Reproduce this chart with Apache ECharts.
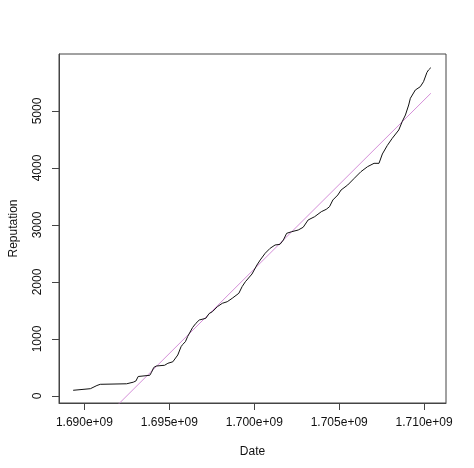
<!DOCTYPE html>
<html>
<head>
<meta charset="utf-8">
<script src="https://cdn.jsdelivr.net/npm/echarts@6/dist/echarts.min.js"></script>
<style>html,body{margin:0;padding:0;background:#fff}#c{width:474px;height:468px}</style>
</head>
<body>
<div id="c"></div>
<script>
// Date (unix seconds) and reputation
var dates = [1689336000,1690350000,1690443000,1690734000,1690932000,1692483000,1692873000,1693030000,1693164000,1693263000,
1693846000,1693939000,1694079000,1694231000,1694720000,1694913000,1695204000,1695495000,1695688000,1695787000,
1695944000,1696078000,1696369000,1696562000,1696760000,1697145000,1697343000,1697535000,1697826000,1698118000,
1698409000,1698700000,1699091000,1699283000,1699476000,1699866000,1700157000,1700350000,1700641000,1700932000,
1701224000,1701515000,1701713000,1701906000,1702197000,1702587000,1702879000,1703170000,1703555000,1703945000,
1704237000,1704429000,1704627000,1704918000,1705111000,1705501000,1705886000,1706276000,1706667000,1707051000,
1707343000,1707541000,1707832000,1708124000,1708508000,1708706000,1708899000,1709091000,1709190000,1709481000,
1709773000,1709965000,1710163000,1710256000,1710396000];
var reputation = [100,128,128,184,205,214,242,263,342,360,
363,409,500,526,539,574,600,719,865,904,
953,1044,1202,1275,1333,1363,1447,1479,1567,1626,
1654,1714,1802,1918,2005,2140,2298,2386,2504,2591,
2649,2661,2737,2854,2882,2912,2960,3088,3146,3233,
3275,3321,3439,3526,3614,3702,3819,3935,4023,4082,
4082,4246,4395,4521,4667,4812,4930,5105,5223,5368,
5426,5514,5675,5719,5760];
// fitted straight line (start and end)
var fitDates = [1689336000, 1710396000];
var fitValues = [-934, 5311];
var xTicks = [1690000000,1695000000,1700000000,1705000000,1710000000];
var yTicks = [0,1000,2000,3000,4000,5000];

var series1 = dates.map(function(d,i){return [d, reputation[i]];});
var series2 = fitDates.map(function(d,i){return [d, fitValues[i]];});
var font = "'Liberation Sans', Arial, sans-serif";
var chart = echarts.init(document.getElementById('c'), null, {renderer:'canvas'});
chart.setOption({
  animation:false,
  grid:{left:55, right:28, top:54, bottom:65, show:true, borderColor:'#444', borderWidth:1, containLabel:false},
  xAxis:{type:'value', min:1688502000, max:1711288000,
    name:'Date', nameLocation:'middle', nameGap:43,
    nameTextStyle:{fontFamily:font, fontSize:12, color:'#111'},
    splitLine:{show:false},
    axisLine:{show:true, onZero:false, lineStyle:{color:'#444'}},
    axisTick:{show:true, inside:false, length:7, customValues:xTicks, lineStyle:{color:'#444'}},
    axisLabel:{customValues:xTicks, margin:14, fontFamily:font, fontSize:12, color:'#111',
      formatter:function(v){return (v/1e9).toFixed(3)+'e+09';}}
  },
  yAxis:{type:'value', min:-123, max:6000,
    name:'Reputation', nameLocation:'middle', nameGap:39,
    nameTextStyle:{fontFamily:font, fontSize:12, color:'#111'},
    splitLine:{show:false},
    axisLine:{show:true, onZero:false, lineStyle:{color:'#444'}},
    axisTick:{show:true, inside:false, length:7, customValues:yTicks, lineStyle:{color:'#444'}},
    axisLabel:{customValues:yTicks, rotate:90, margin:15, fontFamily:font, fontSize:12, color:'#111',
      formatter:function(v){return String(v);}}
  },
  series:[
    {type:'line', data:series1, showSymbol:false, symbol:'none', lineStyle:{color:'#111', width:1}, clip:true, z:3},
    {type:'line', data:series2, showSymbol:false, symbol:'none', lineStyle:{color:'#d48ed8', width:1}, clip:true, z:2}
  ]
});
</script>
</body>
</html>
